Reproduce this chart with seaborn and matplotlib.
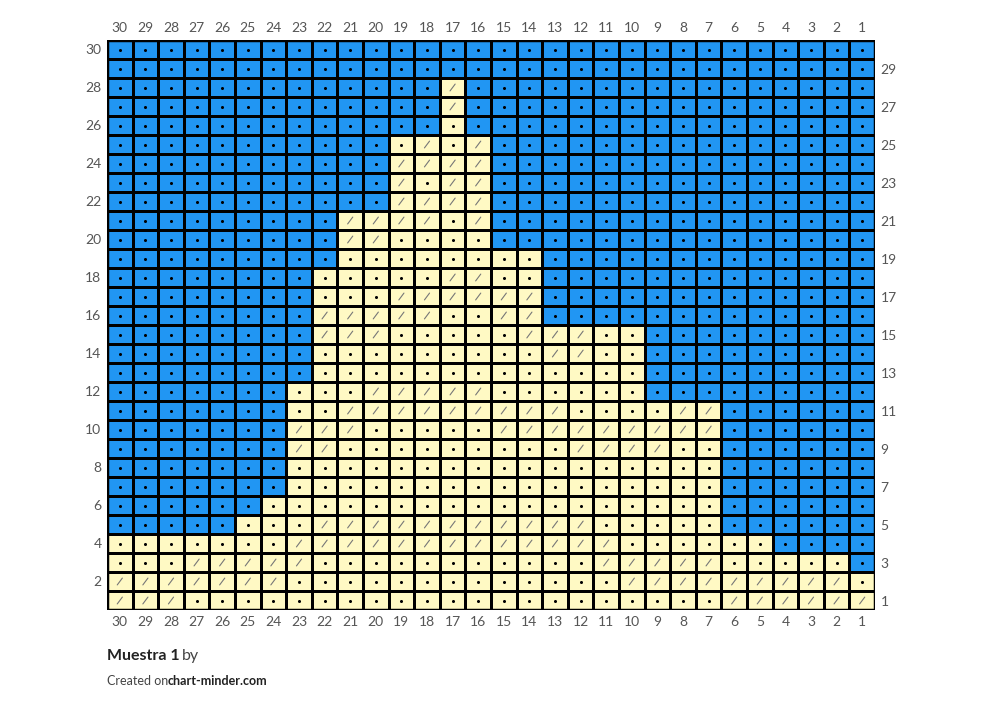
import numpy as np
import pandas as pd
import seaborn as sns
import matplotlib
matplotlib.use("Agg")
import matplotlib.pyplot as plt
from matplotlib.colors import ListedColormap

# Rows from 30 (top) to 1 (bottom); columns from 30 (left) to 1 (right)
# b = blue purl dot, . = yellow purl dot, / = yellow slash stitch
b = "b"
rows = [
    b*30,                                   # 30
    b*30,                                   # 29
    b*13 + "/" + b*16,                      # 28
    b*13 + "/" + b*16,                      # 27
    b*13 + "." + b*16,                      # 26
    b*11 + "./ ./".replace(" ", "") + b*15, # 25
    b*11 + "////" + b*15,                   # 24
    b*11 + "/.//" + b*15,                   # 23
    b*11 + "////" + b*15,                   # 22
    b*9 + "////./" + b*15,                  # 21
    b*9 + "//...." + b*15,                  # 20
    b*9 + "."*8 + b*13,                     # 19
    b*8 + ".....//.." + b*13,               # 18
    b*8 + "...//////" + b*13,               # 17
    b*8 + "/////..//" + b*13,               # 16
    b*8 + "///.....///.." + b*9,            # 15
    b*8 + "."*9 + "//" + ".." + b*9,        # 14
    b*8 + "."*13 + b*9,                     # 13
    b*7 + "..." + "/////" + "......" + b*9, # 12
    b*7 + ".." + "/"*9 + "...." + "//" + b*6,  # 11
    b*7 + "///" + "....." + "/"*9 + b*6,    # 10
    b*7 + "//" + "."*9 + "////" + ".." + b*6,  # 9
    b*7 + "."*17 + b*6,                     # 8
    b*7 + "."*17 + b*6,                     # 7
    b*6 + "."*18 + b*6,                     # 6
    b*5 + "..." + "/"*11 + "....." + b*6,   # 5
    "."*7 + "/"*13 + "."*6 + b*4,           # 4
    "..." + "/////" + "."*11 + "/////" + "....." + b,  # 3
    "/"*7 + "."*13 + "/"*9 + ".",           # 2
    "///" + "."*21 + "//////",              # 1
]
col_labels = [str(c) for c in range(30, 0, -1)]
row_labels = [str(r) for r in range(30, 0, -1)]

BLUE = "#2196F3"
YELLOW = "#FFF9C4"

grid = np.array([[1 if ch == "b" else 0 for ch in r] for r in rows])
df = pd.DataFrame(grid, index=row_labels, columns=col_labels)

plt.rcParams['font.family'] = ['Lato', 'DejaVu Sans']
fig = plt.figure(figsize=(9.81, 7.12), dpi=100)
ax = fig.add_axes([107/981, 1-610/712, 768/981, 570/712])
sns.heatmap(df, ax=ax, cmap=ListedColormap([YELLOW, BLUE]), cbar=False,
            linewidths=0.8, linecolor="black", vmin=0, vmax=1)

for i, r in enumerate(rows):
    for j, ch in enumerate(r):
        if ch == "/":
            ax.plot([j+0.4, j+0.6], [i+0.68, i+0.32], color="#777777", lw=0.8,
                    solid_capstyle="round")
        else:
            ax.plot(j+0.5, i+0.5, marker="o", ms=2.2, color="black", mew=0)

for k in range(0, 31, 5):
    ax.axvline(k, color="black", lw=2 if k not in (0, 30) else 2.5)
    ax.axhline(k, color="black", lw=2 if k not in (0, 30) else 2.5)

ax.set_xlim(0, 30)
ax.set_ylim(30, 0)
ax.set_xticks(np.arange(30) + 0.5)
ax.set_xticklabels(col_labels, rotation=0)
ax.tick_params(axis="x", top=True, labeltop=True, bottom=True, labelbottom=True,
               length=0, labelsize=10, labelcolor="#555555", pad=4)
even_idx = [i for i, l in enumerate(row_labels) if int(l) % 2 == 0]
odd_idx = [i for i, l in enumerate(row_labels) if int(l) % 2 == 1]
ax.set_yticks([i + 0.5 for i in even_idx])
ax.set_yticklabels([row_labels[i] for i in even_idx], rotation=0)
ax.tick_params(axis="y", length=0, labelsize=10, labelcolor="#555555", pad=4)
ax.set_xlabel("")
ax.set_ylabel("")
ax2 = ax.twinx()
ax2.set_ylim(30, 0)
ax2.set_yticks([i + 0.5 for i in odd_idx])
ax2.set_yticklabels([row_labels[i] for i in odd_idx])
ax2.tick_params(axis="y", length=0, labelsize=10, labelcolor="#555555", pad=4)
for s in ax2.spines.values():
    s.set_visible(False)

fig.text(107/981, 1-656/712, "Muestra 1", fontsize=11.5, fontweight="bold",
         color="#222222", va="center")
fig.text(182/981, 1-656/712, "by", fontsize=11.5, color="#444444", va="center")
fig.text(107/981, 1-681/712, "Created on ", fontsize=9, color="#444444", va="center")
fig.text(168/981, 1-681/712, "chart-minder.com", fontsize=9, fontweight="bold",
         color="#222222", va="center")

fig.savefig("out.png", dpi=100)
